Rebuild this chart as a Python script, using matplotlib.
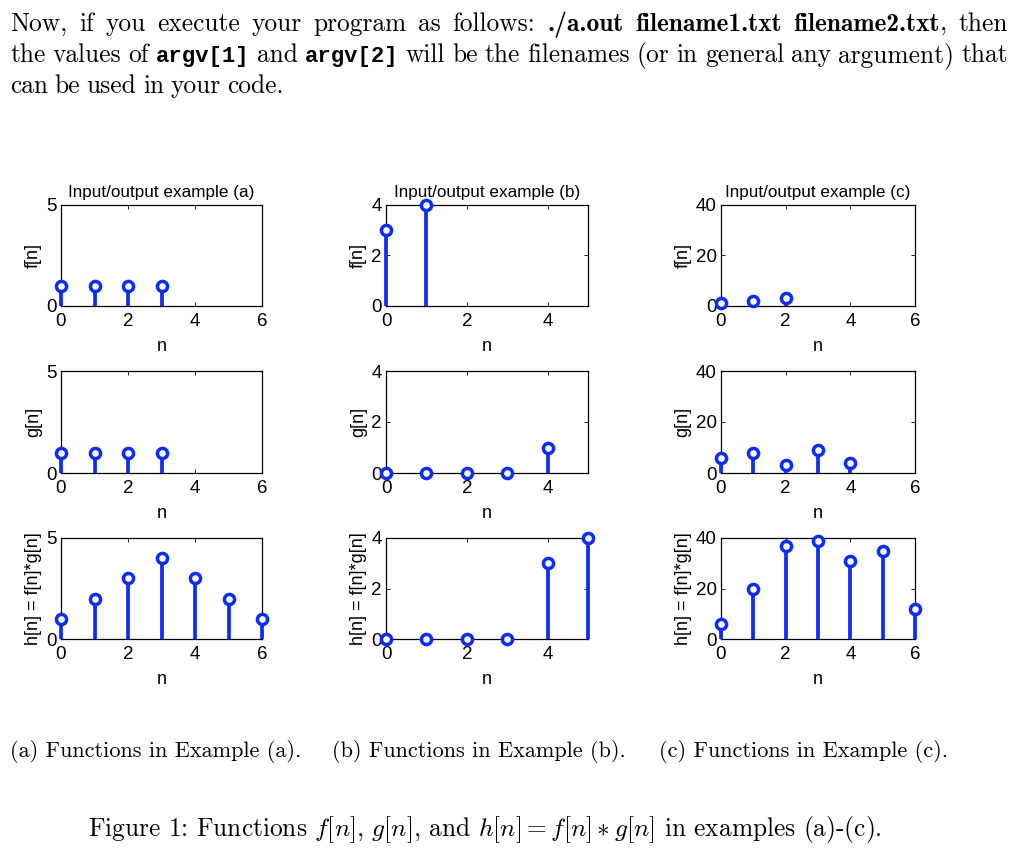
import numpy as np
import matplotlib
matplotlib.use("Agg")
from matplotlib import pyplot as plt

plt.rcParams['mathtext.fontset'] = 'cm'
plt.rcParams['font.family'] = ['Liberation Sans', 'DejaVu Sans']
plt.rcParams['axes.unicode_minus'] = False

# data
f_a = [1, 1, 1, 1]
g_a = [1, 1, 1, 1]
h_a = [1, 2, 3, 4, 3, 2, 1]

f_b = [3, 4]
g_b = [0, 0, 0, 0, 1]
h_b = [0, 0, 0, 0, 3, 4]

f_c = [1, 2, 3]
g_c = [6, 8, 3, 9, 4]
h_c = [6, 20, 37, 39, 31, 35, 12]

titles = ['Input/output example (a)', 'Input/output example (b)', 'Input/output example (c)']
ylabels = ['f[n]', 'g[n]', 'h[n] = f[n]*g[n]']
columns = [[f_a, g_a, h_a], [f_b, g_b, h_b], [f_c, g_c, h_c]]
xlims = [6, 5, 6]
ylims = [5, 4, 40]
yticks = [[0, 5], [0, 2, 4], [0, 20, 40]]
xticks = [[0, 2, 4, 6], [0, 2, 4], [0, 2, 4, 6]]
subcaps = ['(a) Functions in Example (a).', '(b) Functions in Example (b).',
           '(c) Functions in Example (c).']

W, H = 1024, 856
fig = plt.figure(figsize=(W / 100, H / 100), dpi=100)


def px(l, t, r, b):
    return [l / W, 1 - b / H, (r - l) / W, (b - t) / H]


col_x = [(61, 262), (386, 588), (721, 915)]
row_y = [(205, 306), (371, 473), (538, 639)]
blue = '#0d2cf5'

for c in range(3):
    for r in range(3):
        ax = fig.add_axes(px(col_x[c][0], row_y[r][0], col_x[c][1], row_y[r][1]))
        vals = columns[c][r]
        n = np.arange(len(vals))
        ml, sl, bl = ax.stem(n, vals, linefmt='-', markerfmt='o', basefmt=' ')
        ml.set_color(blue)
        ml.set_markerfacecolor('white')
        ml.set_markersize(7.3)
        ml.set_markeredgewidth(2.5)
        ml.set_clip_on(False)
        ml.set_zorder(5)
        sl.set_color(blue)
        sl.set_linewidth(2.7)
        sl.set_clip_on(False)
        sl.set_zorder(4)
        ax.set_xlim(0, xlims[c])
        ax.set_ylim(0, ylims[c])
        ax.set_xticks(xticks[c])
        ax.set_yticks(yticks[c])
        ax.tick_params(direction='in', length=3, width=0.6, top=True, right=True,
                       labelsize=13.5, pad=3)
        ax.tick_params(axis='x', pad=5)
        for s in ax.spines.values():
            s.set_linewidth(0.9)
        ax.set_xlabel('n', fontsize=13, labelpad=6)
        ax.set_ylabel(ylabels[r], fontsize=13, labelpad=3)
        if r == 0:
            ax.set_title(titles[c], fontsize=12.3, pad=6)

# paragraph text above the figure, justified like the page
renderer = fig.canvas.get_renderer()
rm = dict(family='cmr10', size=18.3)
bf = dict(family='cmb10', size=18.3)
tt = dict(family='Liberation Mono', weight='bold', size=16)

line1 = [[('Now,', rm)], [('if', rm)], [('you', rm)], [('execute', rm)], [('your', rm)],
         [('program', rm)], [('as', rm)], [('follows:', rm)], [('./a.out', bf)],
         [('filename1.txt', bf)], [('filename2.txt', bf), (',', rm)], [('then', rm)]]
line2 = [[('the', rm)], [('values', rm)], [('of', rm)], [('argv[1]', tt)], [('and', rm)],
         [('argv[2]', tt)], [('will', rm)], [('be', rm)], [('the', rm)], [('filenames', rm)],
         [('(or', rm)], [('in', rm)], [('general', rm)], [('any', rm)], [('argument)', rm)],
         [('that', rm)]]
line3 = [[('can', rm)], [('be', rm)], [('used', rm)], [('in', rm)], [('your', rm)],
         [('code.', rm)]]


def place_line(words, y, left=10, right=1008, justify=True):
    groups = []
    widths = []
    for word in words:
        objs = [fig.text(0, 1 - y / H, s, va='baseline', ha='left', **st) for s, st in word]
        ws = [o.get_window_extent(renderer).width for o in objs]
        groups.append((objs, ws))
        widths.append(sum(ws))
    gap = (right - left - sum(widths)) / (len(words) - 1) if justify else 6.5
    x = left
    for objs, ws in groups:
        for o, wd in zip(objs, ws):
            o.set_x(x / W)
            x += wd
        x += gap


place_line(line1, 31)
place_line(line2, 62)
place_line(line3, 93, justify=False)

sub_x = [10, 332, 659]
for c in range(3):
    fig.text(sub_x[c] / W, 1 - 757 / H, subcaps[c], family='cmr10',
             size=16, va='baseline', ha='left')

fig.text(485 / W, 1 - 836 / H,
         r'Figure 1: Functions $f[n]$, $g[n]$, and $h[n] = f[n] \ast g[n]$ in examples (a)-(c).',
         family='cmr10', size=18.3, va='baseline', ha='center')

fig.savefig('out.png', dpi=100)
